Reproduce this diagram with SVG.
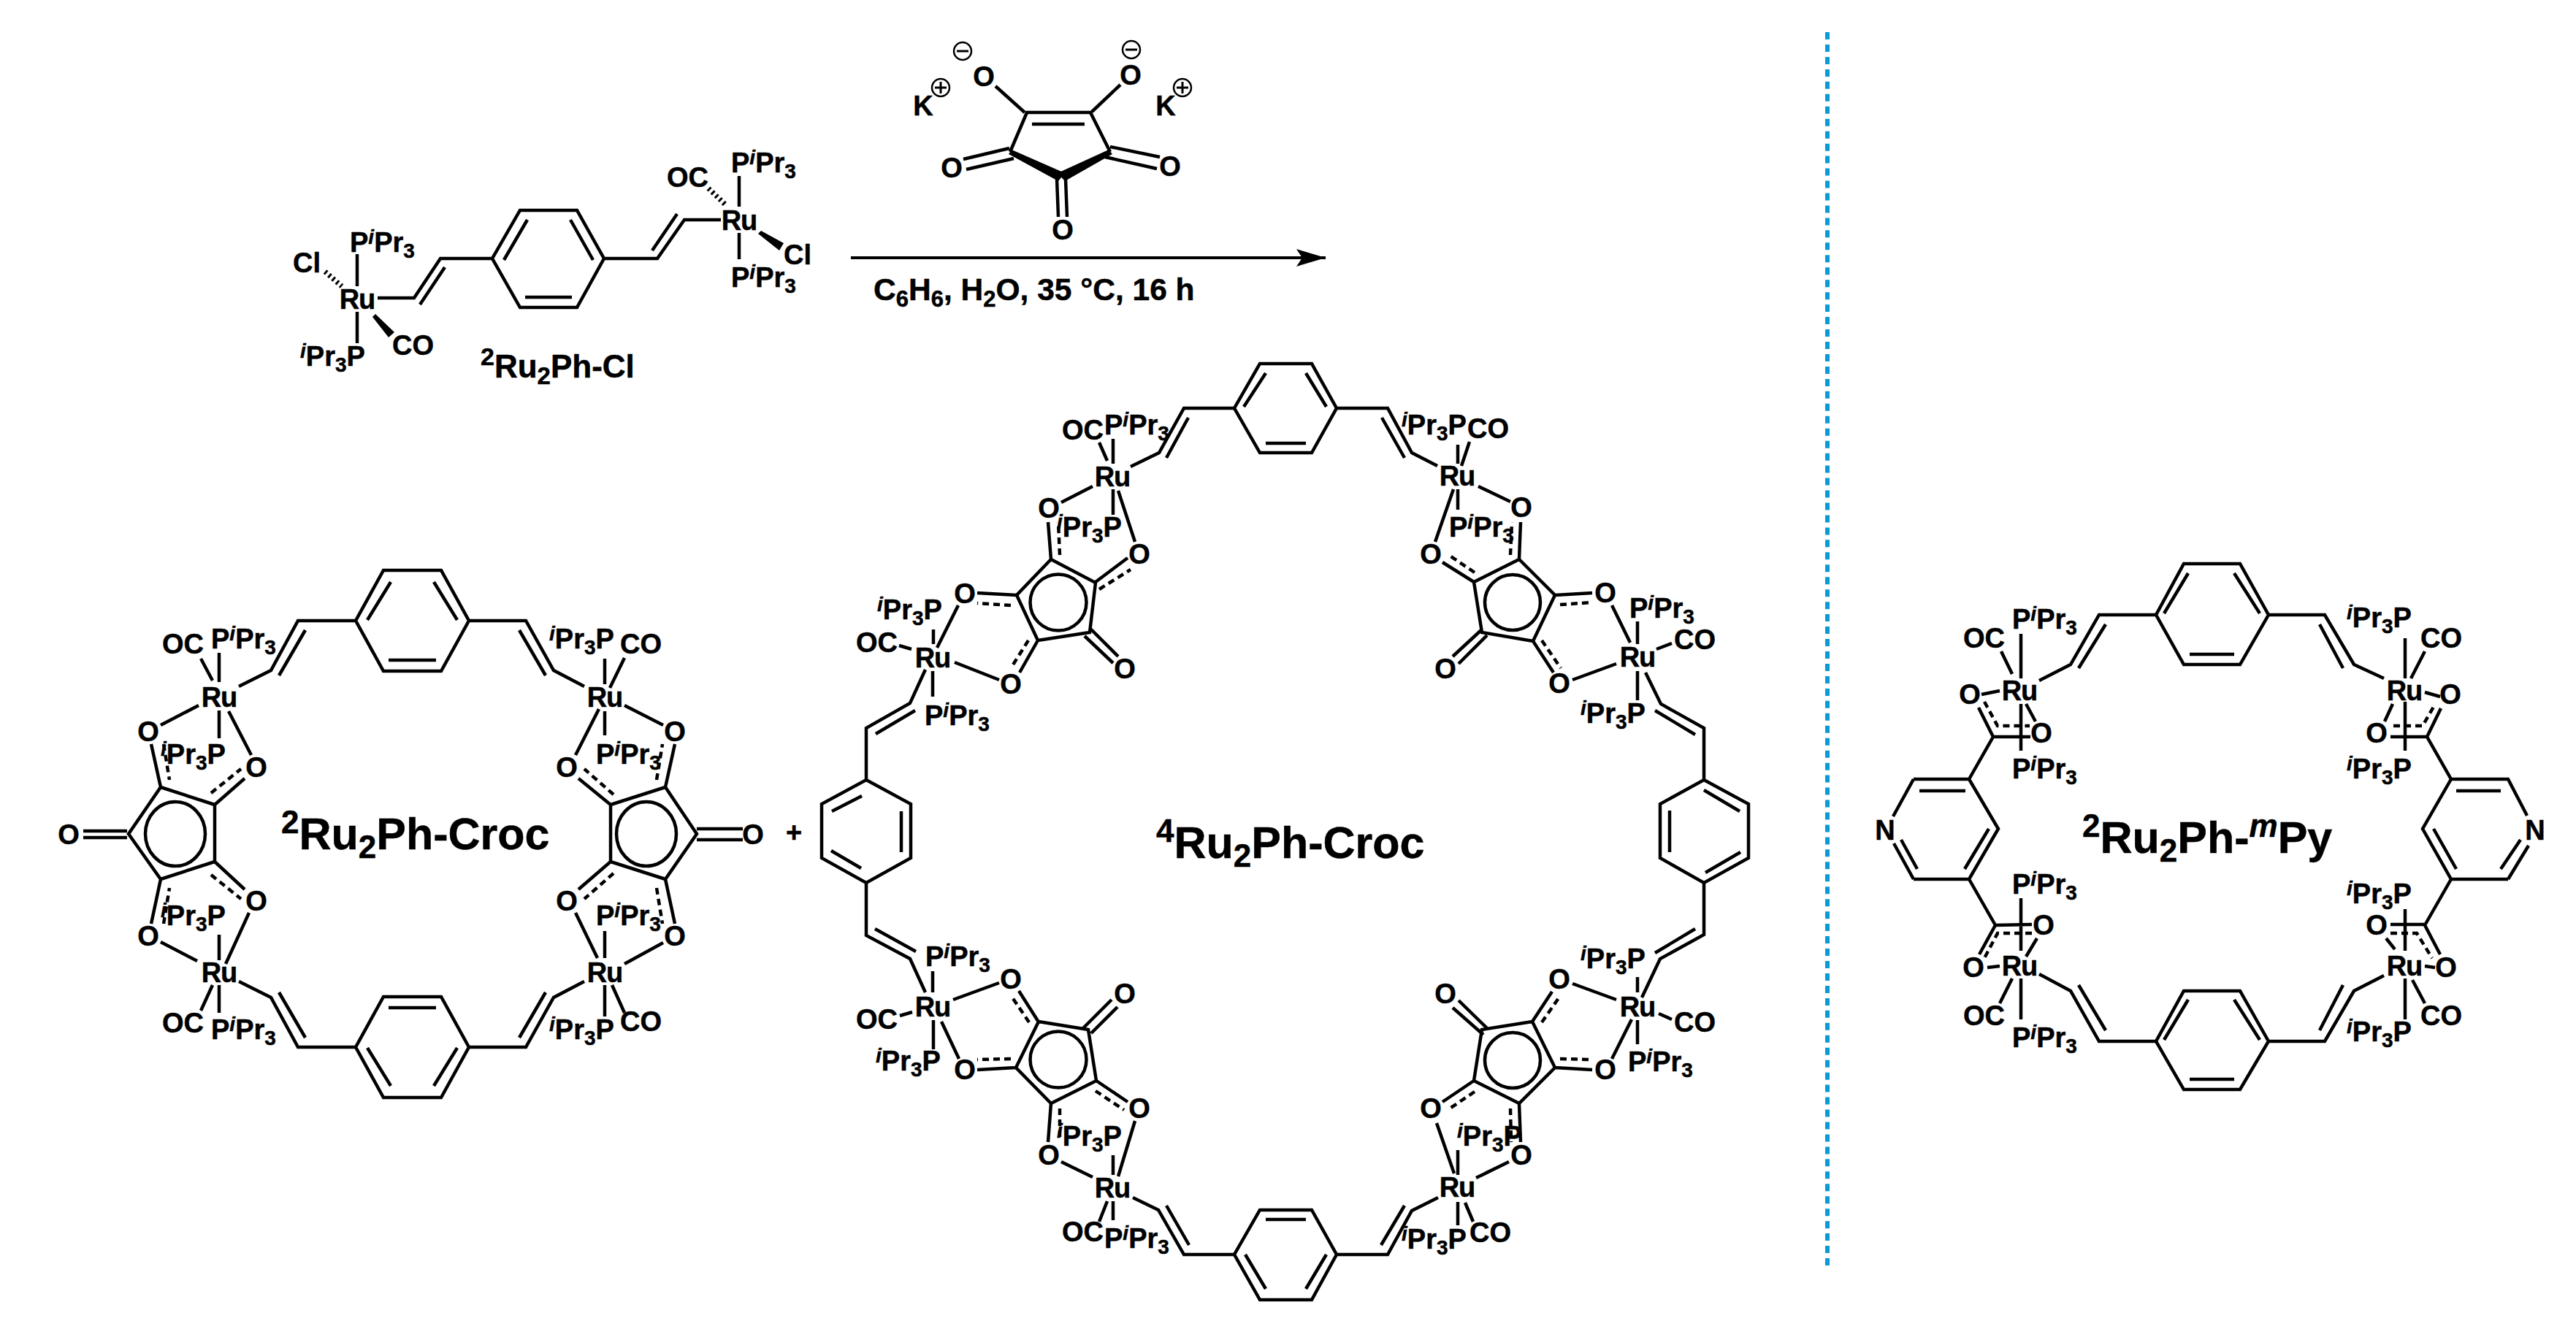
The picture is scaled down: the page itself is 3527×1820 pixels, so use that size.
<svg xmlns="http://www.w3.org/2000/svg" width="3527" height="1820" viewBox="0 0 3527 1820">
<style>
text{font-family:"Liberation Sans",Arial,sans-serif;font-weight:700;font-size:38px;fill:#000;stroke:#000;stroke-width:.5}
.c{text-anchor:middle}
.ru{letter-spacing:-1px}
.u{font-size:28px;font-style:italic}
.d{font-size:28px}
.big{font-size:61px}
.bu,.bd{font-size:44px}
.b,.h,.ds{fill:none;stroke:#000;stroke-width:4.5;stroke-linejoin:miter;stroke-linecap:butt}
.ds{stroke-dasharray:9 6}
.h{stroke-width:7;stroke-dasharray:3 4}
.w{fill:#000}
.q{fill:none;stroke:#000;stroke-width:2.5}
.l{stroke:#0a9bd6;stroke-width:6;stroke-dasharray:10 6.96;fill:none}
</style>
<defs>
<marker id="ah" viewBox="0 0 40 24" refX="40" refY="12" markerWidth="40" markerHeight="24" markerUnits="userSpaceOnUse" orient="auto"><path d="M0 0L40 12L0 24L8 12Z" fill="#000"/></marker>
</defs>

<g id="ru2ph-cl">
<path class="b" d="M712 288H790L827 354L790 421H712L674 354ZM722 301L690 356M781 301L812 356M719 407H783M674 354H603L567 408H517M609 366L575 417M827 354H900L937 301H987M927 293L893 343M489 348V392M489 427V470M1012 241V283M1012 319V355"/>
<path class="h" d="M445 372L468 392M970 258L993 280"/>
<path class="w" d="M510 434L514 430L540 455L532 462ZM1038 320L1042 316L1073 333L1067 343Z"/>
<text x="489" y="423" class="c ru">Ru</text>
<text x="1012" y="315" class="c ru">Ru</text>
<text x="479" y="345">P<tspan class="u" dy="-11">i</tspan><tspan dy="11">Pr</tspan><tspan class="d" dy="8">3</tspan></text>
<text x="411" y="501"><tspan class="u" dy="-11">i</tspan><tspan dy="11">Pr</tspan><tspan class="d" dy="8">3</tspan><tspan dy="-8">P</tspan></text>
<text x="401" y="373">Cl</text>
<text x="537" y="486">CO</text>
<text x="913" y="256">OC</text>
<text x="1001" y="236">P<tspan class="u" dy="-11">i</tspan><tspan dy="11">Pr</tspan><tspan class="d" dy="8">3</tspan></text>
<text x="1001" y="393">P<tspan class="u" dy="-11">i</tspan><tspan dy="11">Pr</tspan><tspan class="d" dy="8">3</tspan></text>
<text x="1073" y="362">Cl</text>
<text x="658" y="517" style="font-size:44px"><tspan style="font-size:34px" dy="-17">2</tspan><tspan dy="17">Ru</tspan><tspan style="font-size:33px" dy="9">2</tspan><tspan dy="-9">Ph-Cl</tspan></text>
</g>

<g id="croconate">
<path class="b" d="M1383 208L1406 154H1493L1520 208M1413 170H1485M1363 118L1403 154M1534 116L1495 153M1319 218L1382 203M1323 232L1388 217M1520 201L1588 215M1513 215L1584 231M1447 245L1449 297M1459 245L1461 297"/>
<path class="w" d="M1381 211L1385 205L1458 237L1449 248ZM1518 205L1523 211L1458 248L1448 237Z"/>
<text x="1347" y="118" class="c">O</text>
<text x="1548" y="116" class="c">O</text>
<text x="1303" y="243" class="c">O</text>
<text x="1602" y="241" class="c">O</text>
<text x="1455" y="328" class="c">O</text>
<text x="1264" y="158" class="c">K</text>
<text x="1596" y="158" class="c">K</text>
<circle class="q" cx="1318" cy="70" r="12"/><path class="q" style="stroke-width:3" d="M1310 70H1326"/>
<circle class="q" cx="1549" cy="68" r="12"/><path class="q" style="stroke-width:3" d="M1541 68H1557"/>
<circle class="q" cx="1288" cy="120" r="12"/><path class="q" style="stroke-width:3" d="M1280 120H1296M1288 112V128"/>
<circle class="q" cx="1619" cy="120" r="12"/><path class="q" style="stroke-width:3" d="M1611 120H1627M1619 112V128"/>
</g>

<g id="reaction-arrow">
<path d="M1165 353H1815" stroke="#000" stroke-width="4" fill="none" marker-end="url(#ah)"/>
<text x="1196" y="411" style="font-size:42.5px">C<tspan style="font-size:31px" dy="9">6</tspan><tspan dy="-9">H</tspan><tspan style="font-size:31px" dy="9">6</tspan><tspan dy="-9">, H</tspan><tspan style="font-size:31px" dy="9">2</tspan><tspan dy="-9">O, 35 °C, 16 h</tspan></text>
</g>

<g id="croc2">
<path class="b" d="M525 781H604L642 850L604 919H525L487 850ZM535 797L503 849M594 797L626 849M532 904H597M525 1503H604L642 1434L604 1365H525L487 1434ZM535 1487L503 1435M594 1487L626 1435M532 1380H597M487 850H408L371 918L327 940M418 863L382 925M487 1434H408L371 1366L327 1344M418 1421L382 1359M642 850H720L758 918L800 940M711 863L747 925M642 1434H720L758 1366L800 1344M711 1421L747 1359"/>
<path class="b" d="M275 902L291 932M300 894V934M272 966L220 993M313 974L344 1034M300 973V1011M220 1078L294 1102V1180L220 1204L176 1142ZM114 1138H174M114 1147H174M207 1019L220 1078M294 1102L335 1066M300 1280V1315M270 1316L220 1290M309 1320L341 1250M300 1349V1387M291 1349L275 1384M207 1265L220 1204M294 1180L335 1218"/>
<path class="ds" d="M224 1019L232 1068M289 1086L330 1053M224 1265L232 1216M289 1198L330 1231"/>
<ellipse class="b" cx="240" cy="1142" rx="41" ry="44"/>
<path class="b" d="M855 901L835 942M828 902V937M855 966L908 993M820 971L788 1034M828 974V1007M911 1078L836 1102V1180L911 1204L954 1142ZM954 1135H1017M954 1150H1017M911 1078L924 1019M836 1102L792 1066M828 1275V1312M788 1250L818 1312M855 1320L908 1291M828 1349V1392M838 1349L855 1387M911 1204L924 1265M836 1180L792 1218"/>
<path class="ds" d="M899 1068L907 1019M840 1088L800 1053M899 1216L907 1265M840 1196L800 1231"/>
<ellipse class="b" cx="885" cy="1142" rx="41" ry="44"/>
<text x="300" y="968" class="c ru">Ru</text><text x="828" y="968" class="c ru">Ru</text><text x="300" y="1345" class="c ru">Ru</text><text x="828" y="1345" class="c ru">Ru</text>
<text x="222" y="895">OC</text><text x="849" y="895">CO</text><text x="222" y="1414">OC</text><text x="849" y="1412">CO</text>
<text x="289" y="888">P<tspan class="u" dy="-11">i</tspan><tspan dy="11">Pr</tspan><tspan class="d" dy="8">3</tspan></text>
<text x="289" y="1423">P<tspan class="u" dy="-11">i</tspan><tspan dy="11">Pr</tspan><tspan class="d" dy="8">3</tspan></text>
<text x="816" y="1046">P<tspan class="u" dy="-11">i</tspan><tspan dy="11">Pr</tspan><tspan class="d" dy="8">3</tspan></text>
<text x="816" y="1267">P<tspan class="u" dy="-11">i</tspan><tspan dy="11">Pr</tspan><tspan class="d" dy="8">3</tspan></text>
<text x="220" y="1046"><tspan class="u" dy="-11">i</tspan><tspan dy="11">Pr</tspan><tspan class="d" dy="8">3</tspan><tspan dy="-8">P</tspan></text>
<text x="220" y="1267"><tspan class="u" dy="-11">i</tspan><tspan dy="11">Pr</tspan><tspan class="d" dy="8">3</tspan><tspan dy="-8">P</tspan></text>
<text x="752" y="888"><tspan class="u" dy="-11">i</tspan><tspan dy="11">Pr</tspan><tspan class="d" dy="8">3</tspan><tspan dy="-8">P</tspan></text>
<text x="752" y="1423"><tspan class="u" dy="-11">i</tspan><tspan dy="11">Pr</tspan><tspan class="d" dy="8">3</tspan><tspan dy="-8">P</tspan></text>
<text x="203" y="1015" class="c">O</text><text x="351" y="1064" class="c">O</text><text x="94" y="1156" class="c">O</text><text x="351" y="1247" class="c">O</text><text x="203" y="1295" class="c">O</text>
<text x="924" y="1015" class="c">O</text><text x="776" y="1064" class="c">O</text><text x="1031" y="1156" class="c">O</text><text x="776" y="1247" class="c">O</text><text x="924" y="1295" class="c">O</text>
<text x="385" y="1163" class="big"><tspan class="bu" dy="-22">2</tspan><tspan dy="22">Ru</tspan><tspan class="bd" dy="12">2</tspan><tspan dy="-12">Ph-Croc</tspan></text>
</g>

<text id="plus" x="1087" y="1153" class="c">+</text>

<g id="croc4">
<path class="b" d="M1725 498H1796L1830 559L1796 620H1725L1690 559ZM1733 511L1703 557M1788 511L1816 557M1733 607H1788M1725 1657H1796L1830 1718L1796 1780H1725L1690 1718ZM1733 1670H1788M1705 1718L1733 1765M1816 1718L1788 1765M1186 1068L1247 1101V1175L1186 1209L1125 1175V1101ZM1139 1111L1180 1090M1234 1111V1167M1138 1165L1179 1189M2333 1068L2394 1101V1175L2333 1209L2273 1175V1101ZM2286 1110V1167M2333 1082L2382 1111M2335 1195L2383 1167"/>
<path class="b" d="M1690 559H1621L1587 620L1548 639M1627 572L1597 627M1505 606L1516 631M1524 601V635M1496 666L1453 688M1531 672L1554 742M1524 670V705M1439 766L1500 798L1492 866L1421 877L1392 815ZM1439 766L1435 715M1500 797L1544 764M1392 815L1338 812M1421 877L1396 921M1492 860L1531 899M1485 871L1524 908M1278 862V882M1231 884L1248 889M1283 887L1312 829M1307 907L1368 931M1277 919V954M1267 917L1246 963L1186 997V1068M1253 973L1199 1005"/>
<path class="ds" d="M1451 760L1449 715M1505 807L1548 780M1384 829L1338 826M1408 877L1384 915"/>
<circle class="b" cx="1449" cy="825" r="38.5"/>
<path class="b" d="M1186 1209V1281L1246 1313L1267 1359M1198 1272L1254 1303M1277 1330V1359M1232 1391L1249 1386M1278 1397V1437M1305 1369L1368 1346M1289 1399L1313 1450M1422 1399L1490 1410L1501 1480L1439 1511L1391 1462ZM1483 1408L1522 1369M1494 1415L1530 1379M1421 1398L1395 1357M1391 1462L1338 1465M1501 1480L1544 1509M1439 1511L1435 1564M1524 1582V1609M1531 1611L1554 1535M1496 1612L1453 1591M1524 1645V1671M1516 1645L1505 1673M1551 1640L1586 1657L1621 1718H1690M1597 1651L1628 1705"/>
<path class="ds" d="M1409 1400L1384 1363M1384 1450L1338 1451M1500 1494L1539 1520M1451 1518V1562"/>
<circle class="b" cx="1449" cy="1451" r="38.5"/>
<path class="b" d="M1830 559H1900L1933 620L1968 638M1892 572L1923 627M1996 609V635M2012 605L2001 638M2024 666L2068 687M1990 670L1965 742M1996 670V698M2080 766L2129 815L2099 878L2029 866L2018 797ZM2080 766L2082 715M2018 797L1975 770M2129 815L2180 812M2099 878L2127 921M2029 862L1989 899M2036 870L1997 909M2242 851V882M2268 889L2289 881M2207 829L2232 880M2213 909L2153 931M2242 919V959M2253 921L2274 964L2333 997V1068M2266 973L2321 1006"/>
<path class="ds" d="M2068 760L2070 715M2019 784L1982 759M2136 828L2180 825M2111 877L2137 915"/>
<circle class="b" cx="2071" cy="825" r="38"/>
<path class="b" d="M2333 1209V1280L2273 1313L2248 1366M2321 1272L2266 1305M2242 1338V1359M2271 1388L2289 1396M2242 1397V1430M2213 1369L2153 1347M2234 1396L2207 1450M2098 1399L2129 1462L2080 1511L2018 1480L2029 1410ZM2031 1417L1989 1380M2036 1408L1997 1370M2098 1399L2125 1358M2129 1462L2180 1465M2018 1480L1975 1509M2080 1511L2082 1564M1996 1575V1609M1967 1538L1991 1607M2021 1613L2066 1591M1996 1646V1678M2006 1647L2017 1673M1969 1640L1933 1658L1900 1718H1830M1923 1651L1891 1705"/>
<path class="ds" d="M2111 1400L2136 1364M2136 1450L2180 1451M2019 1495L1982 1520M2068 1518L2069 1564"/>
<circle class="b" cx="2071" cy="1452" r="38"/>
<text x="1523" y="666" class="c ru">Ru</text><text x="1277" y="914" class="c ru">Ru</text><text x="1277" y="1392" class="c ru">Ru</text><text x="1523" y="1640" class="c ru">Ru</text>
<text x="1995" y="665" class="c ru">Ru</text><text x="2242" y="913" class="c ru">Ru</text><text x="2242" y="1392" class="c ru">Ru</text><text x="1995" y="1639" class="c ru">Ru</text>
<text x="1454" y="602">OC</text><text x="1172" y="893">OC</text><text x="1172" y="1409">OC</text><text x="1454" y="1700">OC</text>
<text x="2009" y="600">CO</text><text x="2292" y="889">CO</text><text x="2292" y="1413">CO</text><text x="2012" y="1701">CO</text>
<text x="1512" y="595">P<tspan class="u" dy="-11">i</tspan><tspan dy="11">Pr</tspan><tspan class="d" dy="8">3</tspan></text>
<text x="1266" y="993">P<tspan class="u" dy="-11">i</tspan><tspan dy="11">Pr</tspan><tspan class="d" dy="8">3</tspan></text>
<text x="1267" y="1323">P<tspan class="u" dy="-11">i</tspan><tspan dy="11">Pr</tspan><tspan class="d" dy="8">3</tspan></text>
<text x="1512" y="1709">P<tspan class="u" dy="-11">i</tspan><tspan dy="11">Pr</tspan><tspan class="d" dy="8">3</tspan></text>
<text x="1984" y="735">P<tspan class="u" dy="-11">i</tspan><tspan dy="11">Pr</tspan><tspan class="d" dy="8">3</tspan></text>
<text x="2231" y="846">P<tspan class="u" dy="-11">i</tspan><tspan dy="11">Pr</tspan><tspan class="d" dy="8">3</tspan></text>
<text x="2229" y="1467">P<tspan class="u" dy="-11">i</tspan><tspan dy="11">Pr</tspan><tspan class="d" dy="8">3</tspan></text>
<text x="1447" y="735"><tspan class="u" dy="-11">i</tspan><tspan dy="11">Pr</tspan><tspan class="d" dy="8">3</tspan><tspan dy="-8">P</tspan></text>
<text x="1201" y="848"><tspan class="u" dy="-11">i</tspan><tspan dy="11">Pr</tspan><tspan class="d" dy="8">3</tspan><tspan dy="-8">P</tspan></text>
<text x="1199" y="1466"><tspan class="u" dy="-11">i</tspan><tspan dy="11">Pr</tspan><tspan class="d" dy="8">3</tspan><tspan dy="-8">P</tspan></text>
<text x="1447" y="1569"><tspan class="u" dy="-11">i</tspan><tspan dy="11">Pr</tspan><tspan class="d" dy="8">3</tspan><tspan dy="-8">P</tspan></text>
<text x="1919" y="595"><tspan class="u" dy="-11">i</tspan><tspan dy="11">Pr</tspan><tspan class="d" dy="8">3</tspan><tspan dy="-8">P</tspan></text>
<text x="2164" y="990"><tspan class="u" dy="-11">i</tspan><tspan dy="11">Pr</tspan><tspan class="d" dy="8">3</tspan><tspan dy="-8">P</tspan></text>
<text x="2164" y="1326"><tspan class="u" dy="-11">i</tspan><tspan dy="11">Pr</tspan><tspan class="d" dy="8">3</tspan><tspan dy="-8">P</tspan></text>
<text x="1995" y="1569"><tspan class="u" dy="-11">i</tspan><tspan dy="11">Pr</tspan><tspan class="d" dy="8">3</tspan><tspan dy="-8">P</tspan></text>
<text x="1919" y="1710"><tspan class="u" dy="-11">i</tspan><tspan dy="11">Pr</tspan><tspan class="d" dy="8">3</tspan><tspan dy="-8">P</tspan></text>
<text x="1436" y="709" class="c">O</text><text x="1560" y="772" class="c">O</text><text x="1321" y="826" class="c">O</text><text x="1384" y="950" class="c">O</text><text x="1540" y="929" class="c">O</text>
<text x="1384" y="1354" class="c">O</text><text x="1321" y="1478" class="c">O</text><text x="1540" y="1374" class="c">O</text><text x="1560" y="1531" class="c">O</text><text x="1436" y="1595" class="c">O</text>
<text x="2083" y="708" class="c">O</text><text x="1959" y="772" class="c">O</text><text x="2198" y="825" class="c">O</text><text x="2135" y="949" class="c">O</text><text x="1979" y="929" class="c">O</text>
<text x="2135" y="1354" class="c">O</text><text x="2198" y="1478" class="c">O</text><text x="1979" y="1374" class="c">O</text><text x="1959" y="1531" class="c">O</text><text x="2083" y="1595" class="c">O</text>
<text x="1583" y="1175" class="big"><tspan class="bu" dy="-22">4</tspan><tspan dy="22">Ru</tspan><tspan class="bd" dy="12">2</tspan><tspan dy="-12">Ph-Croc</tspan></text>
</g>

<path id="divider" class="l" d="M2502 44V1733"/>

<g id="mpy">
<path class="b" d="M2990 772H3067L3106 842L3067 910H2990L2952 842ZM2996 785L2963 840M3059 785L3094 840M2998 896H3059M2990 1357H3067L3106 1426L3067 1492H2990L2952 1426ZM2996 1369L2963 1424M3059 1369L3094 1424M2998 1478H3059M2952 842H2874L2835 910L2792 932M2883 855L2846 915M3106 842H3183L3223 910L3264 929M3176 855L3208 915M2952 1426H2874L2835 1357L2792 1334M2883 1411L2846 1349M3106 1426H3183L3223 1357L3264 1336M3176 1411L3208 1349"/>
<path class="b" d="M2740 892L2755 923M2767 868V929M2738 946L2713 951M2774 964L2787 988M2767 964V1028M2729 1009L2709 969M2729 1009H2780M2729 1009L2696 1067M2620 1067H2696L2736 1135L2696 1204H2620M2620 1067L2592 1118M2620 1204L2593 1155M2628 1083H2691M2723 1135L2690 1190M2625 1190L2603 1150M2696 1204L2732 1267M2767 1230V1302M2732 1267L2782 1266M2732 1267L2710 1307M2774 1310L2789 1285M2721 1325L2738 1323M2767 1340V1396M2755 1340L2738 1374"/>
<path class="ds" d="M2717 961L2735 994H2779M2782 1278H2735L2717 1312"/>
<path class="b" d="M3320 892L3301 929M3293 874V929M3320 948L3341 954M3276 964L3265 988M3293 961V1028M3323 1009L3342 970M3323 1009H3273M3323 1009L3356 1067H3434L3460 1117M3434 1204L3462 1158M3356 1067L3317 1135L3356 1204H3434M3363 1083H3424M3332 1135L3363 1190M3424 1190L3451 1150M3356 1204L3320 1267M3293 1245V1302M3320 1266H3273M3320 1267L3341 1307M3279 1300L3267 1285M3320 1323L3334 1325M3293 1340V1396M3303 1342L3320 1374"/>
<path class="ds" d="M3277 994H3317L3332 968M3273 1278H3309L3330 1312"/>
<text x="2765" y="959" class="c ru">Ru</text><text x="3292" y="959" class="c ru">Ru</text><text x="2765" y="1336" class="c ru">Ru</text><text x="3292" y="1336" class="c ru">Ru</text>
<text x="2688" y="887">OC</text><text x="3314" y="887">CO</text><text x="2688" y="1404">OC</text><text x="3314" y="1404">CO</text>
<text x="2755" y="861">P<tspan class="u" dy="-11">i</tspan><tspan dy="11">Pr</tspan><tspan class="d" dy="8">3</tspan></text>
<text x="2755" y="1066">P<tspan class="u" dy="-11">i</tspan><tspan dy="11">Pr</tspan><tspan class="d" dy="8">3</tspan></text>
<text x="2755" y="1224">P<tspan class="u" dy="-11">i</tspan><tspan dy="11">Pr</tspan><tspan class="d" dy="8">3</tspan></text>
<text x="2755" y="1434">P<tspan class="u" dy="-11">i</tspan><tspan dy="11">Pr</tspan><tspan class="d" dy="8">3</tspan></text>
<text x="3213" y="859"><tspan class="u" dy="-11">i</tspan><tspan dy="11">Pr</tspan><tspan class="d" dy="8">3</tspan><tspan dy="-8">P</tspan></text>
<text x="3213" y="1066"><tspan class="u" dy="-11">i</tspan><tspan dy="11">Pr</tspan><tspan class="d" dy="8">3</tspan><tspan dy="-8">P</tspan></text>
<text x="3213" y="1237"><tspan class="u" dy="-11">i</tspan><tspan dy="11">Pr</tspan><tspan class="d" dy="8">3</tspan><tspan dy="-8">P</tspan></text>
<text x="3213" y="1426"><tspan class="u" dy="-11">i</tspan><tspan dy="11">Pr</tspan><tspan class="d" dy="8">3</tspan><tspan dy="-8">P</tspan></text>
<text x="2697" y="964" class="c">O</text><text x="2795" y="1017" class="c">O</text><text x="2798" y="1280" class="c">O</text><text x="2702" y="1338" class="c">O</text>
<text x="3355" y="964" class="c">O</text><text x="3254" y="1017" class="c">O</text><text x="3254" y="1280" class="c">O</text><text x="3349" y="1338" class="c">O</text>
<text x="2581" y="1150" class="c">N</text><text x="3471" y="1150" class="c">N</text>
<text x="2851" y="1168" class="big"><tspan class="bu" dy="-22">2</tspan><tspan dy="22">Ru</tspan><tspan class="bd" dy="12">2</tspan><tspan dy="-12">Ph-</tspan><tspan class="bu" style="font-style:italic" dy="-22">m</tspan><tspan dy="22">Py</tspan></text>
</g>
</svg>
